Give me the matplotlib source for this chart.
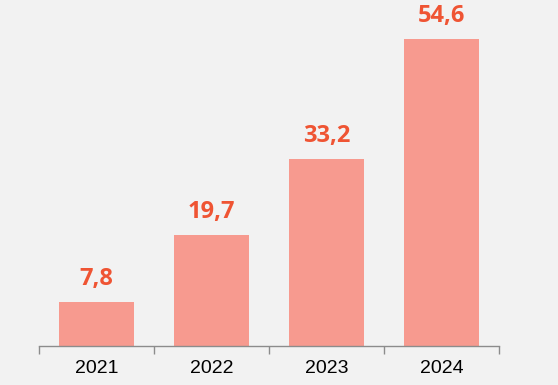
import matplotlib.pyplot as plt
from matplotlib.ticker import FixedLocator

years = ['2021', '2022', '2023', '2024']
values = [7.8, 19.7, 33.2, 54.6]
value_labels = ['7,8', '19,7', '33,2', '54,6']

bg = '#f2f2f2'

fig = plt.figure(figsize=(5.58, 3.85), dpi=100)
fig.set_facecolor(bg)
ax = fig.add_axes([0.0699, 0.1013, 0.8244, 0.8987])
ax.set_facecolor(bg)

pos = list(range(len(years)))
ax.bar(pos, values, width=0.66, color='#f79a8f', zorder=2)

for x, v, lab in zip(pos, values, value_labels):
    ax.annotate(lab, (x, v), xytext=(0, 8), textcoords='offset points',
                ha='center', va='bottom', fontsize=17, fontweight='bold',
                color='#ef5433', family=['Open Sans', 'DejaVu Sans'])

ax.set_xlim(-0.5, len(years) - 0.5)
ax.set_ylim(0, 61.5)

for s in ['top', 'right', 'left']:
    ax.spines[s].set_visible(False)
ax.spines['bottom'].set_color('#8c8c8c')
ax.spines['bottom'].set_linewidth(1.0)

ax.set_yticks([])
ax.xaxis.set_major_locator(FixedLocator([p - 0.5 for p in pos] + [len(years) - 0.5]))
ax.xaxis.set_tick_params(which='major', length=6, color='#8c8c8c', width=1.0, labelbottom=False)
ax.set_xticks(pos, minor=True)
ax.set_xticklabels(years, minor=True, fontsize=14, family=['Liberation Sans', 'DejaVu Sans'])
ax.xaxis.set_tick_params(which='minor', length=0, pad=10)

fig.savefig('out.png', facecolor=bg)
